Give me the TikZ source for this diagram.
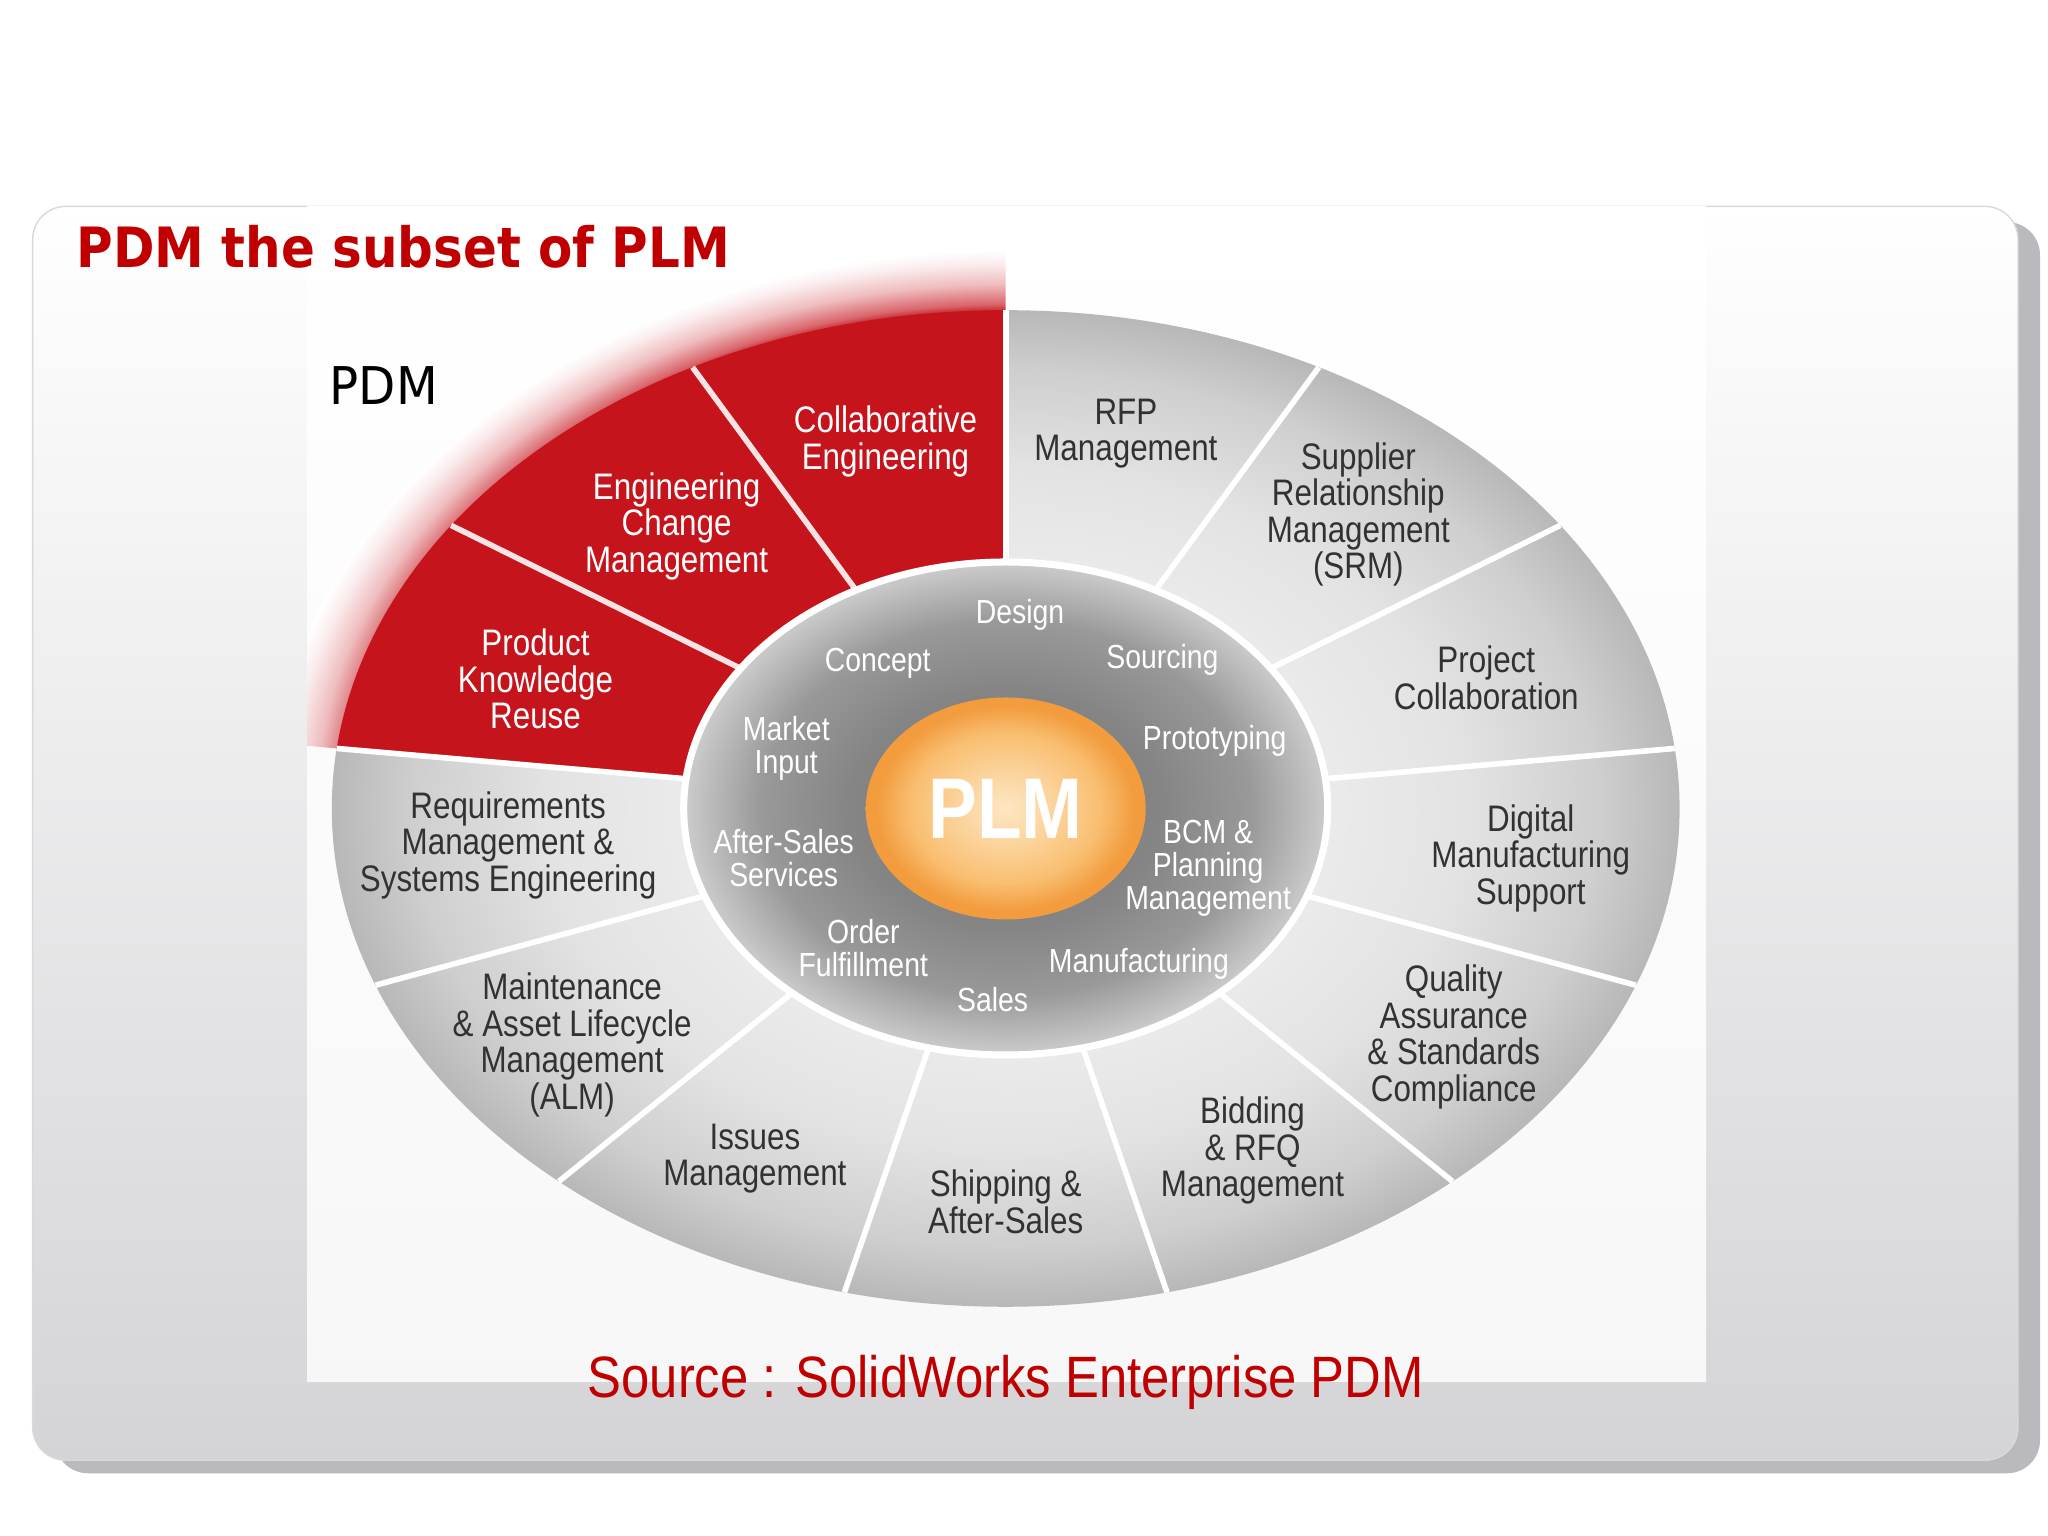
\documentclass[tikz,border=0pt]{standalone}
\usepackage{fontspec}
\setmainfont{Liberation Sans}
\newfontfamily\titlefont{DejaVu Sans}[FakeStretch=0.90]
\newfontfamily\pdmfont{DejaVu Sans}[FakeStretch=0.93]
\newfontfamily\narrowfont{Liberation Sans}[FakeStretch=0.85]
\newfontfamily\sourcefont{Liberation Sans}[FakeStretch=0.87]
\usetikzlibrary{shapes.geometric}

\definecolor{titlered}{RGB}{192,0,0}
\definecolor{sectorred}{RGB}{197,20,28}
\definecolor{labelgrey}{RGB}{50,50,50}
\definecolor{panelgrey}{RGB}{212,212,215}
\definecolor{shadowgrey}{RGB}{186,186,190}
\definecolor{balllight}{RGB}{253,230,195}
\definecolor{ballmid}{RGB}{249,190,112}
\definecolor{balledge}{RGB}{242,156,62}

\pgfdeclareradialshading{outerring}{\pgfpoint{0bp}{0bp}}{
	color(0bp)=(black!8);
	color(12bp)=(black!8);
	color(17bp)=(black!11);
	color(22bp)=(black!19);
	color(25bp)=(black!28);
	color(50bp)=(black!28)}
\pgfdeclareradialshading{redglow}{\pgfpoint{0bp}{0bp}}{
	color(0bp)=(sectorred);
	color(22.2bp)=(sectorred);
	color(22.6bp)=(sectorred!65!white);
	color(23.5bp)=(sectorred!28!white);
	color(24.4bp)=(sectorred!8!white);
	color(25bp)=(white);
	color(50bp)=(white)}
\pgfdeclareradialshading{innerdisk}{\pgfpoint{0bp}{0bp}}{
	color(0bp)=(black!50);
	color(12bp)=(black!48);
	color(19bp)=(black!40);
	color(25bp)=(black!20);
	color(50bp)=(black!20)}
\pgfdeclareradialshading{plmball}{\pgfpoint{0bp}{0bp}}{
	color(0bp)=(balllight);
	color(9bp)=(ballmid!50!balllight);
	color(17bp)=(ballmid);
	color(23bp)=(balledge);
	color(25bp)=(balledge);
	color(50bp)=(balledge)}

\begin{document}
\begin{tikzpicture}[
	segment/.style={
		align=center,
		text=labelgrey,
		font=\narrowfont\fontsize{10.5}{10.4}\selectfont
	},
	redsegment/.style={
		segment,
		text=white
	},
	phase/.style={
		align=center,
		text=white,
		font=\narrowfont\fontsize{9.5}{9.4}\selectfont
	},
	plm/.style={
		ellipse,
		shading=plmball,
		minimum width=2.8cm,
		minimum height=2.22cm,
		inner sep=0pt,
		text=white,
		font=\narrowfont\bfseries\fontsize{24.5}{26}\selectfont
	},
	divider/.style={
		white,
		line width=1.6pt
	},
	reddivider/.style={
		white!88!sectorred,
		line width=1.6pt
	},
]

\useasboundingbox (0,0) rectangle (20.48,15.36);
\fill[white] (0,0) rectangle (20.48,15.36);

\fill[shadowgrey, rounded corners=0.33cm] (0.55,0.627) rectangle (20.40,13.14);
\shade[top color=white, bottom color=panelgrey, draw=black!15, rounded corners=0.33cm] (0.327,0.757) rectangle (20.18,13.296);
\shade[top color=white, bottom color=black!3] (3.07,1.541) rectangle (17.06,13.296);

\node[anchor=base west, inner sep=0pt, text=titlered, font=\titlefont\bfseries\fontsize{15.8}{18}\selectfont] (title) at (0.757,12.68) {PDM the subset of PLM};
\node[anchor=base west, inner sep=0pt, font=\pdmfont\fontsize{14.8}{17}\selectfont] (pdm) at (3.291,11.311) {PDM};

\begin{scope}[shift={(10.057,7.275)}]

\shade[shading=outerring] (0,0) ellipse [x radius=6.739, y radius=4.983];

\begin{scope}
\clip (-6.987,-5.734) rectangle (7.003,6.021);
\clip (0,0) -- (90:9 and 6.655) arc[start angle=90, end angle=173.08, x radius=9, y radius=6.655] -- cycle;
\shade[shading=redglow] (0,0) ellipse [x radius=7.34, y radius=5.58];
\end{scope}
\fill[sectorred] (0,0) -- (90:6.739 and 4.983) arc[start angle=90, end angle=173.08, x radius=6.739, y radius=4.983] -- cycle;

\draw[divider] (90:3.2 and 2.45) -- (90:6.739 and 4.983);
\draw[divider] (62.31:3.2 and 2.45) -- (62.31:6.739 and 4.983);
\draw[divider] (34.62:3.2 and 2.45) -- (34.62:6.739 and 4.983);
\draw[divider] (6.92:3.2 and 2.45) -- (6.92:6.739 and 4.983);
\draw[divider] (-20.77:3.2 and 2.45) -- (-20.77:6.739 and 4.983);
\draw[divider] (-48.46:3.2 and 2.45) -- (-48.46:6.739 and 4.983);
\draw[divider] (-76.15:3.2 and 2.45) -- (-76.15:6.739 and 4.983);
\draw[divider] (-103.85:3.2 and 2.45) -- (-103.85:6.739 and 4.983);
\draw[divider] (-131.54:3.2 and 2.45) -- (-131.54:6.739 and 4.983);
\draw[divider] (-159.23:3.2 and 2.45) -- (-159.23:6.739 and 4.983);
\draw[divider] (173.08:3.2 and 2.45) -- (173.08:6.739 and 4.983);
\draw[reddivider] (145.38:3.2 and 2.45) -- (145.38:6.739 and 4.983);
\draw[reddivider] (117.69:3.2 and 2.45) -- (117.69:6.739 and 4.983);

\shadedraw[shading=innerdisk, draw=white, line width=2pt] (0,0) ellipse [x radius=3.22, y radius=2.465];

\node[plm, shade] (plmcore) at (0,0) {PLM};

\node[redsegment] (collab) at (-1.202,3.670) {Collaborative\\Engineering};
\node[redsegment] (ecm) at (-3.291,2.821) {Engineering\\Change\\Management};
\node[redsegment] (pkr) at (-4.702,1.293) {Product\\Knowledge\\Reuse};
\node[segment] (req) at (-4.976,-0.366) {Requirements\\Management \&\\Systems Engineering};
\node[segment] (alm) at (-4.336,-2.364) {Maintenance\\\& Asset Lifecycle\\Management\\(ALM)};
\node[segment] (issues) at (-2.508,-3.500) {Issues\\Management};
\node[segment] (shipping) at (0,-3.931) {Shipping \&\\After-Sales};
\node[segment] (bidding) at (2.468,-3.422) {Bidding\\\& RFQ\\Management};
\node[segment] (quality) at (4.480,-2.286) {Quality\\Assurance\\\& Standards\\Compliance};
\node[segment] (digital) at (5.250,-0.496) {Digital\\Manufacturing\\Support};
\node[segment] (project) at (4.806,1.306) {Project\\Collaboration};
\node[segment] (srm) at (3.526,2.939) {Supplier\\Relationship\\Management\\(SRM)};
\node[segment] (rfp) at (1.202,3.749) {RFP\\Management};

\node[phase] (design) at (0.144,1.933) {Design};
\node[phase] (concept) at (-1.280,1.450) {Concept};
\node[phase] (sourcing) at (1.567,1.489) {Sourcing};
\node[phase] (market) at (-2.194,0.601) {Market\\Input};
\node[phase] (proto) at (2.090,0.679) {Prototyping};
\node[phase] (aftersales) at (-2.220,-0.496) {After-Sales\\Services};
\node[phase] (bcm) at (2.024,-0.601) {BCM \&\\Planning\\Management};
\node[phase] (order) at (-1.424,-1.398) {Order\\Fulfillment};
\node[phase] (manuf) at (1.332,-1.554) {Manufacturing};
\node[phase] (sales) at (-0.131,-1.907) {Sales};

\end{scope}

\node[anchor=base, inner sep=0pt, text=titlered, font=\sourcefont\fontsize{16.6}{19}\selectfont] (source) at (10.057,1.384) {Source : SolidWorks Enterprise PDM};

\end{tikzpicture}
\end{document}
